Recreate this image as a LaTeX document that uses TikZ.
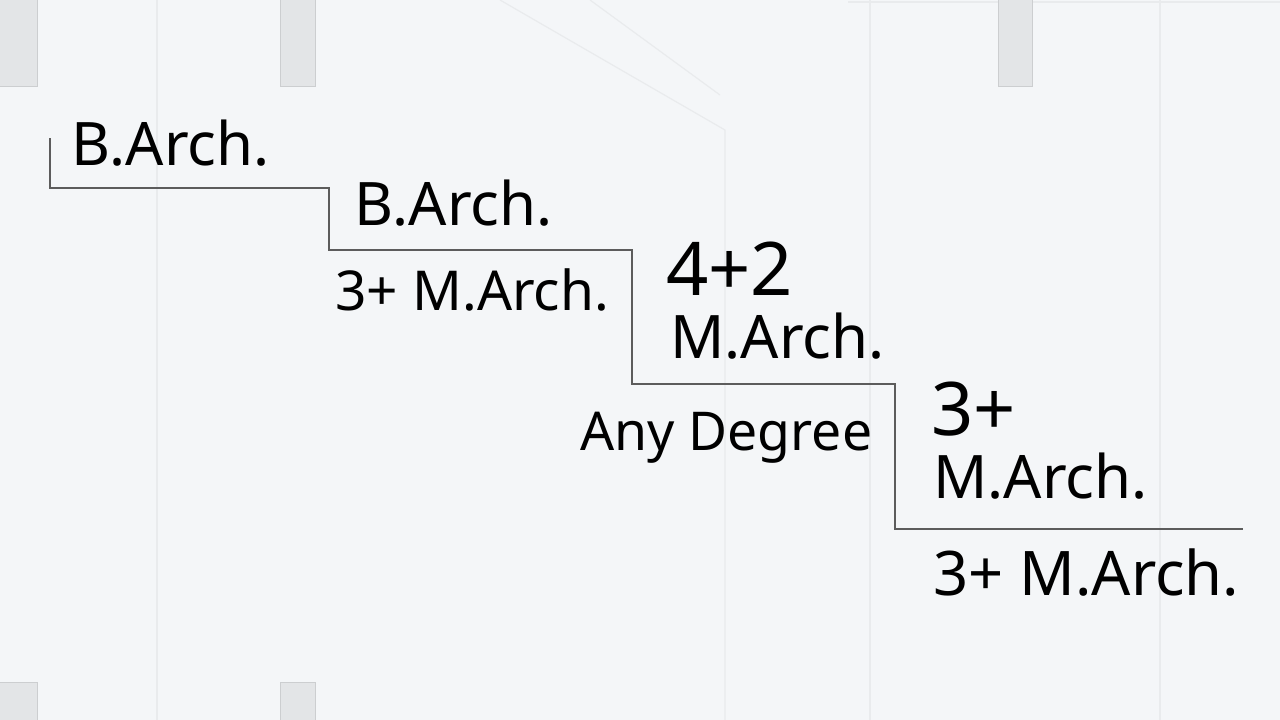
\documentclass[tikz,border=0pt]{standalone}
\usepackage{fontspec}
\setmainfont{Noto Sans}
\definecolor{bgcol}{RGB}{244,246,248}
\definecolor{barcol}{RGB}{227,229,231}
\definecolor{faintcol}{RGB}{233,235,237}
\definecolor{stepcol}{RGB}{92,92,92}

\begin{document}
\begin{tikzpicture}[x=1pt, y=-1pt,
    deg/.style={anchor=base west, inner sep=0pt, text=black, font=\fontsize{60}{62}\selectfont},
    degsmall/.style={deg, font=\fontsize{55}{57}\selectfont},
    degbig/.style={deg, font=\fontsize{61.5}{63}\selectfont},
    years/.style={deg, font=\fontsize{74}{76}\selectfont},
    stairline/.style={stepcol, line width=2.2pt},
    bar/.style={fill=barcol, draw=barcol!90!black, line width=0.6pt},
    faint/.style={faintcol, line width=1.2pt}]
        %% background
        \fill[bgcol] (0,0) rectangle (1280,720);
        \useasboundingbox (0,0) rectangle (1280,720);
        \draw[faint] (157,0) -- (157,720);
        \draw[faint] (870,0) -- (870,720);
        \draw[faint] (1160,0) -- (1160,720);
        \draw[faint] (500,0) -- (725,130) -- (725,720);
        \draw[faint] (590,0) -- (720,95);
        \draw[faint] (848,2) -- (1280,2);
        \draw[bar] (-1,-1) rectangle (37,86);
        \draw[bar] (280,-1) rectangle (315,86);
        \draw[bar] (998,-1) rectangle (1032,86);
        \draw[bar] (-1,682) rectangle (37,721);
        \draw[bar] (280,682) rectangle (315,721);

        %% staircase
        \coordinate (top) at (50,138);
        \coordinate (s1) at (329,188);
        \coordinate (s2) at (632,250);
        \coordinate (s3) at (895,384);
        \coordinate (s4) at (1243,529);
        \draw[stairline] (top) |- (s1) |- (s2) |- (s3) |- (s4);

        %% labels
        \node[deg] (barch1) at (71,165) {B.Arch.};
        \node[deg] (barch2) at (354,225) {B.Arch.};
        \node[degsmall] (march1) at (335,310) {3+ M.Arch.};
        \node[years] (yr42) at (666,295) {4+2};
        \node[deg] (march2) at (670,358) {M.Arch.};
        \node[deg, font=\fontsize{53.5}{55}\selectfont] (anydeg) at (580,450) {Any Degree};
        \node[years] (yr3) at (931,435) {3+};
        \node[deg] (march3) at (933,498) {M.Arch.};
        \node[degbig] (march4) at (933,595) {3+ M.Arch.};
\end{tikzpicture}
\end{document}
